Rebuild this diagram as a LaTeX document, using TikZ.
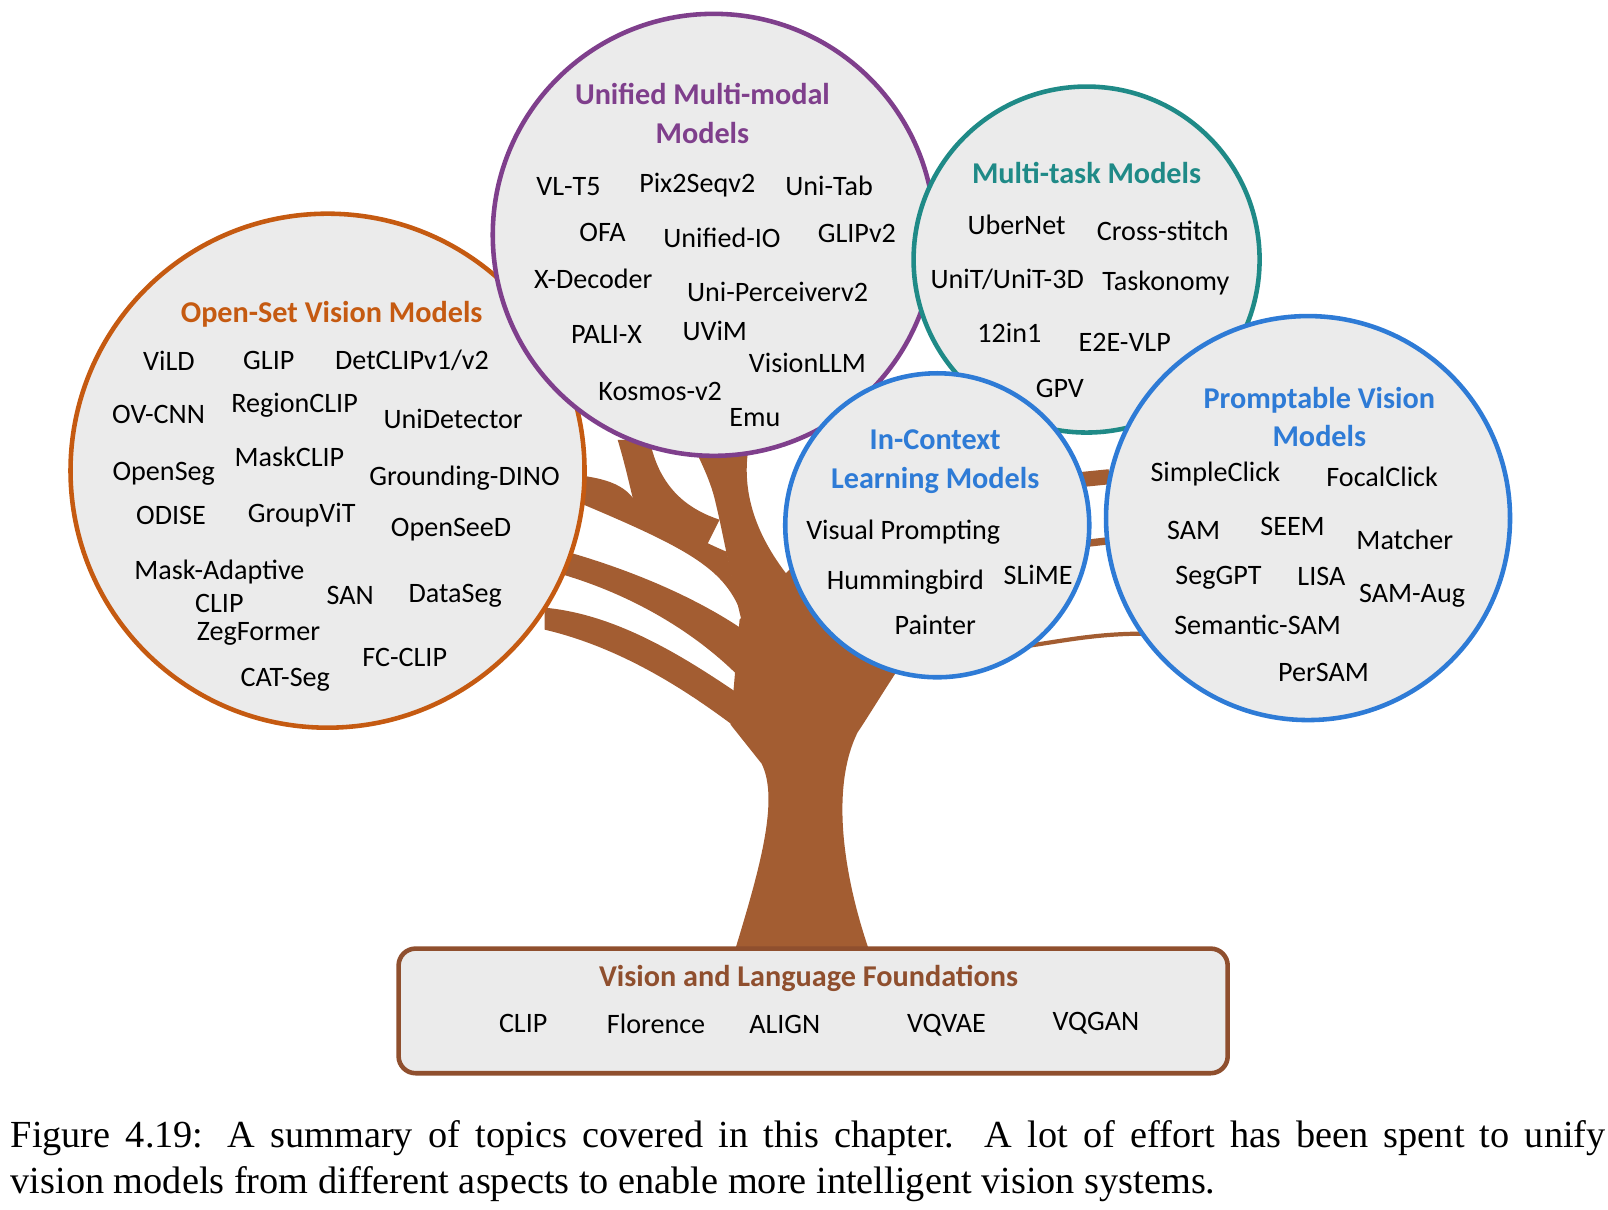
\documentclass[tikz,border=0pt]{standalone}
\usepackage{fontspec}
\setmainfont{Carlito}
\newfontfamily\capfont{Liberation Serif}
\definecolor{osc}{HTML}{C55A11}
\definecolor{umc}{HTML}{7F3F8C}
\definecolor{mtc}{HTML}{1F8A87}
\definecolor{blc}{HTML}{2E7BD6}
\definecolor{trk}{HTML}{A35D32}
\definecolor{boxc}{HTML}{8F4F2E}
\definecolor{bub}{HTML}{EBEBEB}
\tikzset{
  bubble/.style={draw=#1, line width=1.3pt, fill=bub},
  lab/.style={font=\fontsize{8}{9.5}\selectfont, inner sep=0pt, align=center},
  ttl/.style={font=\fontsize{8.6}{10}\selectfont\bfseries, text=#1, inner sep=0pt, align=center},
}
\begin{document}
\begin{tikzpicture}
\useasboundingbox (0,0) rectangle (16.08,-12.09);
% tree, in pixel coordinates of the page
\begin{scope}[x=0.01cm, y=-0.01cm, fill=trk]
  \fill (735,952) .. controls (760,870) and (780,800) .. (762,764) -- (731,725)
        -- (740,620) -- (800,560) -- (880,620) -- (905,660)
        .. controls (885,690) and (870,715) .. (858,733)
        .. controls (830,790) and (845,880) .. (870,952) -- cycle;
  \fill (545,608) .. controls (620,615) and (690,660) .. (756,706)
        -- (747,736) .. controls (700,700) and (630,650) .. (545,630) -- cycle;
  \fill (560,550) .. controls (650,575) and (720,610) .. (764,645)
        -- (760,700) .. controls (720,650) and (650,600) .. (560,574) -- cycle;
  \fill (565,474) .. controls (610,478) and (630,486) .. (640,510)
        .. controls (680,530) and (710,545) .. (727,552) -- (739,607)
        .. controls (720,565) and (680,545) .. (565,497) -- cycle;
  \fill (618,440) -- (650,440) .. controls (660,490) and (690,510) .. (720,520)
        -- (700,560) -- (640,520) .. controls (632,500) and (630,480) .. (618,440) -- cycle;
  \fill (698,455) -- (748,455) .. controls (743,500) and (760,545) .. (800,590)
        -- (750,650) .. controls (735,600) and (725,540) .. (716,503)
        .. controls (712,485) and (705,470) .. (698,455) -- cycle;
  \draw[trk, line width=4.3pt] (1040,484) -- (1110,477);
  \draw[trk, line width=2.1pt] (1040,549) -- (1110,541);
  \draw[trk, line width=1.2pt] (1030,646) .. controls (1070,640) and (1100,634) .. (1145,634);
\end{scope}
% bubbles and texts
\begin{scope}[x=0.0103cm, y=-0.0103cm]
  \draw[bubble=osc] (318,457) circle [radius=2.57cm];
  \draw[bubble=umc] (693,228) circle [radius=2.21cm];
  \draw[bubble=mtc] (1055,252) circle [radius=1.73cm];
  \draw[bubble=blc] (910,510) circle [radius=1.52cm];
  \draw[bubble=blc] (1270,503) circle [radius=2.02cm];
  \draw[boxc, line width=1.3pt, fill=bub, rounded corners=0.17cm] (387,921) rectangle (1192,1042);

  \node[ttl=osc] (tos) at (322,305) {Open-Set Vision Models};
  \foreach \t/\x/\y [count=\i] in {ViLD/164/350, GLIP/261/350, {DetCLIPv1/v2}/400/350,
      OV-CNN/154/402, RegionCLIP/286/393, UniDetector/440/407, OpenSeg/159/460,
      MaskCLIP/281/444, Grounding-DINO/451/464, ODISE/166/500, GroupViT/293/500,
      OpenSeeD/438/514, {Mask-Adaptive\\CLIP}/213/569, SAN/340/578, DataSeg/442/578,
      ZegFormer/251/615, FC-CLIP/393/638, CAT-Seg/277/660}
    \node[lab] (os\i) at (\x,\y) {\t};

  \node[ttl=umc] (tum) at (682,110) {Unified Multi-modal\\[1pt]Models};
  \foreach \t/\x/\y [count=\i] in {VL-T5/552/181, Pix2Seqv2/677/180, Uni-Tab/805/180,
      OFA/585/226, Unified-IO/701/231, GLIPv2/832/227, X-Decoder/576/271,
      Uni-Perceiverv2/755/283, PALI-X/589/325, UViM/694/321, VisionLLM/784/352,
      Kosmos-v2/641/380, Emu/733/405}
    \node[lab] (um\i) at (\x,\y) {\t};

  \node[ttl=mtc] (tmt) at (1055,168) {Multi-task Models};
  \foreach \t/\x/\y [count=\i] in {UberNet/987/218, Cross-stitch/1129/224,
      {UniT/UniT-3D}/978/271, Taskonomy/1132/275, 12in1/980/323, E2E-VLP/1092/332,
      GPV/1029/377}
    \node[lab] (mt\i) at (\x,\y) {\t};

  \node[ttl=blc] (tic) at (908,448) {In-Context\\[1pt]Learning Models};
  \foreach \t/\x/\y [count=\i] in {Visual Prompting/877/517, Hummingbird/879/565,
      SLiME/1008/558, Painter/908/607}
    \node[lab] (ic\i) at (\x,\y) {\t};

  \node[ttl=blc] (tpv) at (1281,405) {Promptable Vision\\[1pt]Models};
  \foreach \t/\x/\y [count=\i] in {SimpleClick/1180/460, FocalClick/1342/463,
      SAM/1159/515, SEEM/1255/511, Matcher/1364/524, SegGPT/1183/561, LISA/1283/560,
      SAM-Aug/1371/578, Semantic-SAM/1221/607, PerSAM/1285/653}
    \node[lab] (pv\i) at (\x,\y) {\t};

  \node[ttl=boxc] (tvl) at (785,950) {Vision and Language Foundations};
  \foreach \t/\x/\y [count=\i] in {CLIP/508/994, Florence/637/994, ALIGN/762/995,
      VQVAE/919/995, VQGAN/1064/993}
    \node[lab] (vl\i) at (\x,\y) {\t};
\end{scope}
\node[anchor=north west, inner sep=0pt, text width=15.95cm, align=justify,
  font=\capfont\fontsize{10.9}{12.9}\selectfont] (cap) at (0.1,-11.2)
  {Figure 4.19: A summary of topics covered in this chapter.\ \ A lot of effort has been spent to unify\linebreak vision models from different aspects to enable more intelligent vision systems.};
\end{tikzpicture}
\end{document}
